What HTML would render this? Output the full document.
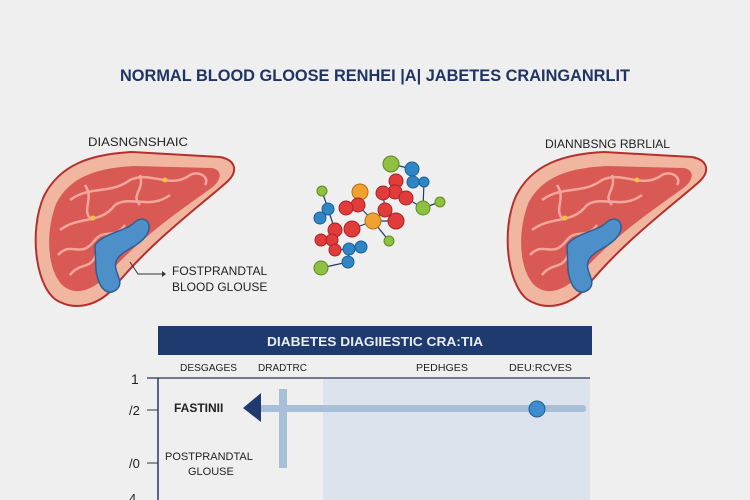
<!DOCTYPE html>
<html><head><meta charset="utf-8"><style>
html,body{margin:0;padding:0;background:#efefef;}
svg{display:block;font-family:"Liberation Sans",sans-serif;}
</style></head><body>
<svg width="750" height="500" viewBox="0 0 750 500" xmlns="http://www.w3.org/2000/svg">
<rect width="750" height="500" fill="#efefef"/>
<text x="375" y="81" text-anchor="middle" font-size="17" font-weight="bold" fill="#1f3466" textLength="510" lengthAdjust="spacingAndGlyphs">NORMAL BLOOD GLOOSE RENHEI |A| JABETES CRAINGANRLIT</text>

<defs>
<g id="liver">
<path d="M60,302 C36,292 28,232 44,196 C60,164 92,154 132,152 L220,157 C236,160 238,171 228,181 C200,206 150,242 112,290 C96,306 76,310 60,302 Z" fill="#f0b6a0" stroke="#b52f2c" stroke-width="2"/>
<path d="M66,288 C48,276 44,236 56,204 C70,176 98,168 134,166 L212,168 C222,170 222,178 214,186 C190,204 146,232 110,272 C96,288 80,296 66,288 Z" fill="#d95a55"/>
<g fill="none" stroke="#f4a69a" stroke-width="2.5">
<path d="M70,200 C90,185 110,195 130,180 C150,170 170,190 190,175 C200,170 210,178 205,185"/>
<path d="M60,230 C80,215 100,225 115,205 C130,195 150,210 170,195"/>
<path d="M58,255 C72,240 80,260 95,240 C105,228 115,240 125,225"/>
<path d="M70,275 C80,262 90,270 96,255 M85,185 C95,200 80,210 92,220 M140,175 C145,190 130,195 140,205"/>
</g>
<circle cx="165" cy="180" r="2.5" fill="#f2c23a"/><circle cx="93" cy="218" r="2.5" fill="#f2c23a"/>
<path d="M95,245 C105,232 125,232 135,222 C145,214 154,224 146,236 C136,249 120,250 116,262 C113,273 126,282 116,290 C106,297 98,286 96,270 Z" fill="#4d8fc9" stroke="#2d5f94" stroke-width="1.5"/>
</g>
</defs>
<use href="#liver"/>
<use href="#liver" transform="translate(472,0)"/>

<text x="88" y="146" font-size="12" fill="#222" textLength="100" lengthAdjust="spacingAndGlyphs">DIASNGNSHAIC</text>
<text x="545" y="148" font-size="12" fill="#222" textLength="125" lengthAdjust="spacingAndGlyphs">DIANNBSNG RBRLIAL</text>
<path d="M130,262 L138,274 L162,274" fill="none" stroke="#333" stroke-width="1"/>
<path d="M162,271 L166,274 L162,277 Z" fill="#333"/>
<text x="172" y="275" font-size="12" fill="#222">FOSTPRANDTAL</text>
<text x="172" y="291" font-size="12" fill="#222">BLOOD GLOUSE</text>

<g stroke="#1e3a6e" stroke-width="1.2">
<line x1="391" y1="164" x2="412" y2="169"/><line x1="412" y1="169" x2="413" y2="182"/><line x1="424" y1="182" x2="423" y2="208"/><line x1="423" y1="208" x2="440" y2="202"/><line x1="406" y1="198" x2="423" y2="208"/>
<line x1="396" y1="181" x2="395" y2="192"/><line x1="383" y1="193" x2="406" y2="198"/><line x1="360" y1="192" x2="358" y2="205"/><line x1="358" y1="205" x2="373" y2="221"/><line x1="385" y1="210" x2="373" y2="221"/><line x1="373" y1="221" x2="396" y2="221"/><line x1="352" y1="229" x2="373" y2="221"/><line x1="373" y1="221" x2="389" y2="241"/><line x1="383" y1="193" x2="385" y2="210"/>
<line x1="322" y1="191" x2="328" y2="209"/><line x1="328" y1="209" x2="335" y2="230"/><line x1="335" y1="230" x2="335" y2="250"/><line x1="335" y1="250" x2="349" y2="249"/><line x1="348" y1="262" x2="321" y2="268"/><line x1="349" y1="249" x2="348" y2="262"/>
</g>
<g stroke-width="1">
<circle cx="391" cy="164" r="8" fill="#8dc13f" stroke="#5c8a22"/>
<circle cx="412" cy="169" r="7" fill="#2f86c7" stroke="#1f5f90"/>
<circle cx="413" cy="182" r="6" fill="#2f86c7" stroke="#1f5f90"/>
<circle cx="424" cy="182" r="5" fill="#2f86c7" stroke="#1f5f90"/>
<circle cx="396" cy="181" r="7" fill="#e23b3b" stroke="#a82424"/>
<circle cx="395" cy="192" r="7" fill="#e23b3b" stroke="#a82424"/>
<circle cx="383" cy="193" r="7" fill="#e23b3b" stroke="#a82424"/>
<circle cx="406" cy="198" r="7" fill="#e23b3b" stroke="#a82424"/>
<circle cx="423" cy="208" r="7" fill="#8dc13f" stroke="#5c8a22"/>
<circle cx="440" cy="202" r="5" fill="#8dc13f" stroke="#5c8a22"/>
<circle cx="360" cy="192" r="8" fill="#f0a12e" stroke="#b0701a"/>
<circle cx="358" cy="205" r="7" fill="#e23b3b" stroke="#a82424"/>
<circle cx="346" cy="208" r="7" fill="#e23b3b" stroke="#a82424"/>
<circle cx="385" cy="210" r="7" fill="#e23b3b" stroke="#a82424"/>
<circle cx="396" cy="221" r="8" fill="#e23b3b" stroke="#a82424"/>
<circle cx="373" cy="221" r="8" fill="#f0a12e" stroke="#b0701a"/>
<circle cx="352" cy="229" r="8" fill="#e23b3b" stroke="#a82424"/>
<circle cx="389" cy="241" r="5" fill="#8dc13f" stroke="#5c8a22"/>
<circle cx="322" cy="191" r="5" fill="#8dc13f" stroke="#5c8a22"/>
<circle cx="328" cy="209" r="6" fill="#2f86c7" stroke="#1f5f90"/>
<circle cx="320" cy="218" r="6" fill="#2f86c7" stroke="#1f5f90"/>
<circle cx="335" cy="230" r="7" fill="#e23b3b" stroke="#a82424"/>
<circle cx="321" cy="240" r="6" fill="#e23b3b" stroke="#a82424"/>
<circle cx="332" cy="240" r="6" fill="#e23b3b" stroke="#a82424"/>
<circle cx="335" cy="250" r="6" fill="#e23b3b" stroke="#a82424"/>
<circle cx="349" cy="249" r="6" fill="#2f86c7" stroke="#1f5f90"/>
<circle cx="361" cy="247" r="6" fill="#2f86c7" stroke="#1f5f90"/>
<circle cx="348" cy="262" r="6" fill="#2f86c7" stroke="#1f5f90"/>
<circle cx="321" cy="268" r="7" fill="#8dc13f" stroke="#5c8a22"/>
</g>

<rect x="158" y="326" width="434" height="29" fill="#1e3a6e"/>
<text x="375" y="346" text-anchor="middle" font-size="13" font-weight="bold" fill="#e8edf5" textLength="216" lengthAdjust="spacingAndGlyphs">DIABETES DIAGIIESTIC CRA:TIA</text>
<text x="180" y="371" font-size="10" fill="#222" textLength="57" lengthAdjust="spacingAndGlyphs">DESGAGES</text>
<text x="258" y="371" font-size="10" fill="#222" textLength="49" lengthAdjust="spacingAndGlyphs">DRADTRC</text>
<text x="416" y="371" font-size="10" fill="#222" textLength="52" lengthAdjust="spacingAndGlyphs">PEDHGES</text>
<text x="509" y="371" font-size="10" fill="#222" textLength="63" lengthAdjust="spacingAndGlyphs">DEU:RCVES</text>
<rect x="323" y="379" width="267" height="121" fill="#dde3ec"/>
<line x1="147" y1="378" x2="590" y2="378" stroke="#2a3450" stroke-width="1.2"/>
<line x1="158" y1="378" x2="158" y2="500" stroke="#1e3a6e" stroke-width="1.5"/>
<line x1="147" y1="410" x2="158" y2="410" stroke="#333"/><line x1="147" y1="463" x2="158" y2="463" stroke="#333"/>
<text x="131" y="384" font-size="14" fill="#222">1</text>
<text x="129" y="415" font-size="13" fill="#222">/2</text>
<text x="129" y="468" font-size="13" fill="#222">/0</text>
<text x="129" y="503" font-size="13" fill="#222">4</text>
<rect x="258" y="405" width="328" height="7" rx="3" fill="#a8bfd8"/>
<rect x="279" y="389" width="8" height="79" fill="#a8bfd8"/>
<path d="M243,408 L261,393 L261,422 Z" fill="#1e3a6e"/>
<circle cx="537" cy="409" r="8" fill="#3f8cd0" stroke="#1f5f90" stroke-width="1"/>
<text x="174" y="412" font-size="12" font-weight="bold" fill="#222">FASTINII</text>
<text x="165" y="460" font-size="11" fill="#222">POSTPRANDTAL</text>
<text x="188" y="475" font-size="11" fill="#222">GLOUSE</text>
</svg>
</body></html>
